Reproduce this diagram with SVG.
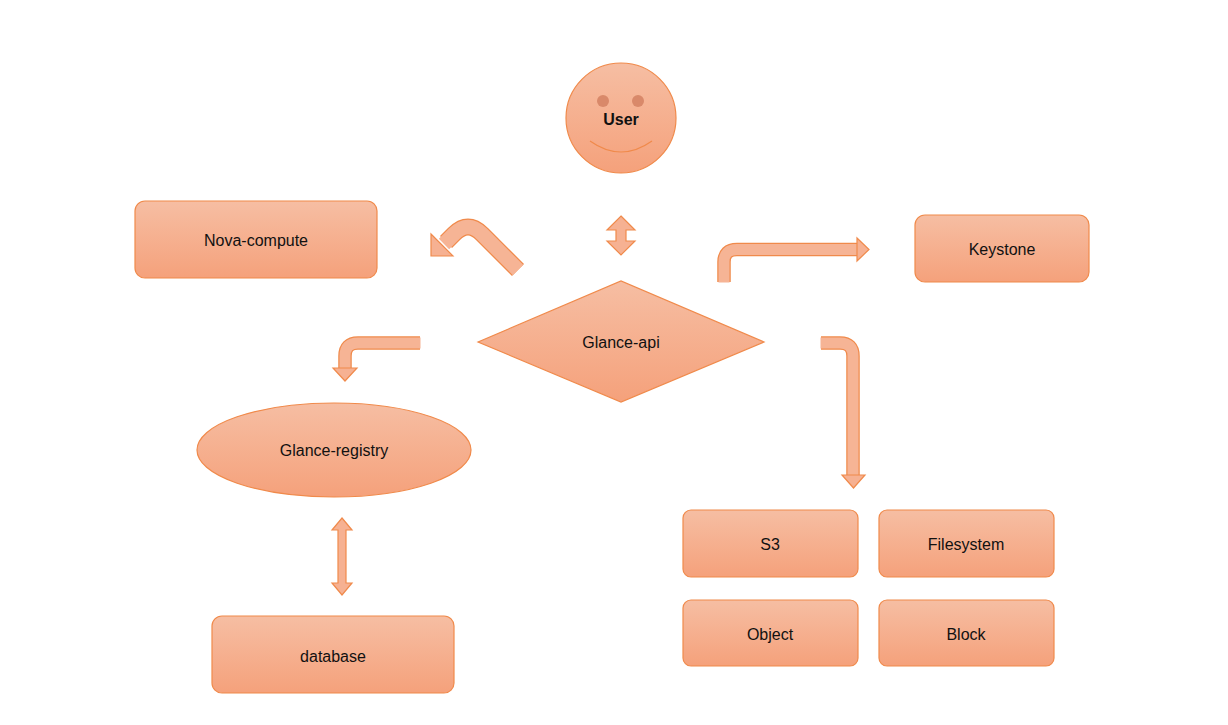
<svg xmlns="http://www.w3.org/2000/svg" width="1228" height="725" viewBox="0 0 1228 725">
<defs>
<linearGradient id="g" x1="0" y1="0" x2="0" y2="1"><stop offset="0" stop-color="#f6bea3"/><stop offset="1" stop-color="#f5a17b"/></linearGradient>
<style>
.n{fill:url(#g);stroke:#f08a4b;stroke-width:1.2}
.t{font-family:"Liberation Sans",Arial,sans-serif;font-size:16px;fill:#111;text-anchor:middle;dominant-baseline:central}
.so{fill:none;stroke:#f08a4b;stroke-width:13.5}
.si{fill:none;stroke:#f6b495;stroke-width:11}
.h{fill:#f6b192;stroke:#f08a4b;stroke-width:1.2}
</style>
</defs>
<rect width="1228" height="725" fill="#fff"/>
<g id="user">
<circle class="n" cx="621" cy="118" r="55"/>
<circle cx="603" cy="101" r="6" fill="#d9896a"/>
<circle cx="638" cy="101" r="6" fill="#d9896a"/>
<path d="M590 141 Q621 163 652 141" fill="none" stroke="#f08a4b" stroke-width="1.2"/>
<text class="t" x="621" y="119" font-weight="bold">User</text>
</g>
<g id="nova"><rect class="n" x="135" y="201" width="242" height="77" rx="10"/><text class="t" x="256" y="240">Nova-compute</text></g>
<g id="keystone"><rect class="n" x="915" y="215" width="174" height="67" rx="10"/><text class="t" x="1002" y="249">Keystone</text></g>
<g id="glance-api"><polygon class="n" points="478,342 621,281 764,342 621,402"/><text class="t" x="621" y="342">Glance-api</text></g>
<g id="registry"><ellipse class="n" cx="334" cy="450" rx="137" ry="47"/><text class="t" x="334" y="450">Glance-registry</text></g>
<g id="database"><rect class="n" x="212" y="616" width="242" height="77" rx="10"/><text class="t" x="333" y="656">database</text></g>
<g id="s3"><rect class="n" x="683" y="510" width="175" height="67" rx="8"/><text class="t" x="770" y="544">S3</text></g>
<g id="filesystem"><rect class="n" x="879" y="510" width="175" height="67" rx="8"/><text class="t" x="966" y="544">Filesystem</text></g>
<g id="object"><rect class="n" x="683" y="600" width="175" height="66" rx="8"/><text class="t" x="770" y="634">Object</text></g>
<g id="block"><rect class="n" x="879" y="600" width="175" height="66" rx="8"/><text class="t" x="966" y="634">Block</text></g>
<g id="connectors">
<path class="h" d="M621 216 L635 230 L626 230 L626 241 L635 241 L621 255 L607 241 L616 241 L616 230 L607 230 Z"/>
<path class="so" d="M518 270 L482 234 Q468 220 454 234 L446 242" style="stroke-width:17"/>
<path class="si" d="M518 270 L482 234 Q468 220 454 234 L444 244" style="stroke-width:14.5"/>
<path class="h" d="M431 234 L453 256 L431 256 Z"/>
<path class="so" d="M724 282 L724 262 Q724 249.5 737 249.5 L858 249.5"/>
<path class="si" d="M724 282.5 L724 262 Q724 249.5 737 249.5 L859 249.5"/>
<path class="h" d="M857 238 L869 249.5 L857 261 Z"/>
<path class="so" d="M420 343 L358 343 Q345 343 345 356 L345 369"/>
<path class="si" d="M420.5 343 L358 343 Q345 343 345 356 L345 370"/>
<path class="h" d="M333 368 L357 368 L345 381 Z"/>
<path class="so" d="M821 343 L840 343 Q853 343 853 356 L853 476"/>
<path class="si" d="M820.5 343 L840 343 Q853 343 853 356 L853 477"/>
<path class="h" d="M842 475 L865 475 L853.5 488 Z"/>
<path class="h" d="M342 518 L352 530 L346 530 L346 583 L352 583 L342 595 L332 583 L338 583 L338 530 L332 530 Z"/>
</g>
</svg>
